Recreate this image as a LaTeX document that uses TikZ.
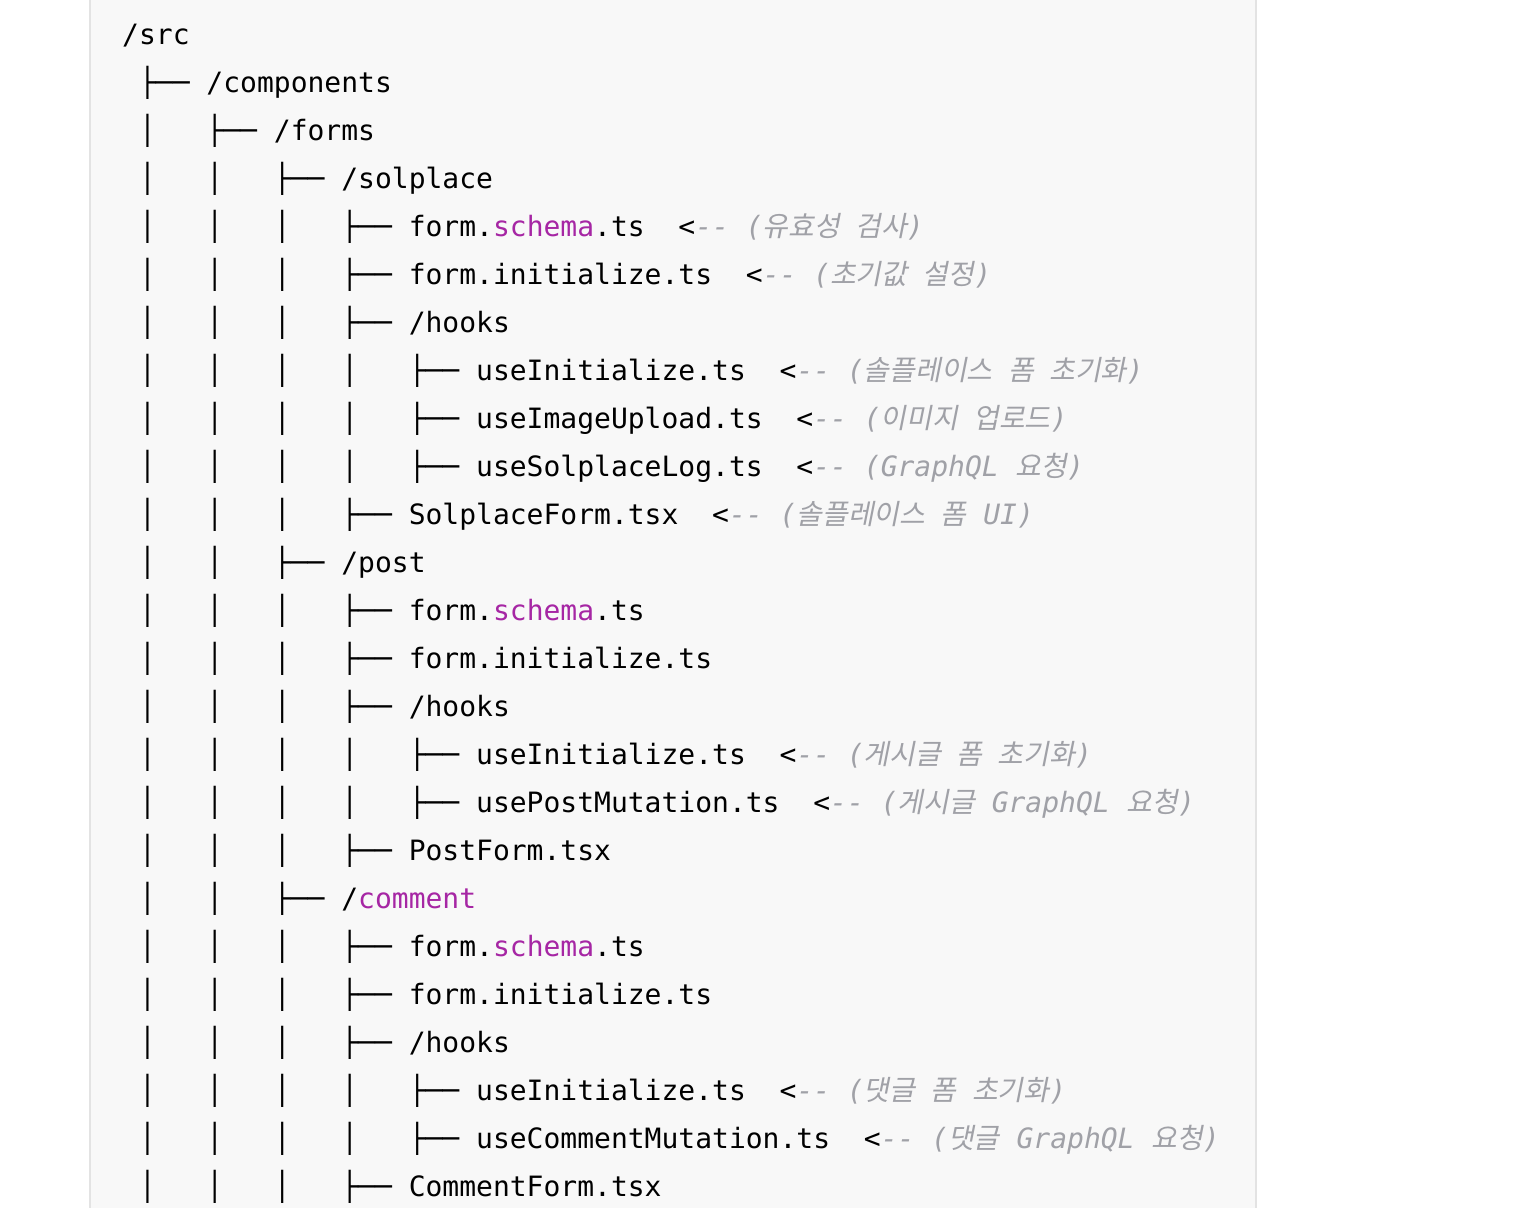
\documentclass[tikz,border=0pt]{standalone}
\usepackage{fontspec}
\setmonofont{DejaVu Sans Mono}
\newfontfamily\krfont[FakeSlant=0.2]{Noto Sans CJK KR}
\definecolor{cgray}{HTML}{A0A1A7}
\definecolor{cpurp}{HTML}{A626A4}
\definecolor{panel}{HTML}{F8F8F8}
\definecolor{pborder}{HTML}{E3E3E3}
\newcommand\Cm[1]{{\color{cgray}\itshape #1}}
\newcommand\Kr[1]{{\krfont #1}}
\newcommand\Pu[1]{{\color{cpurp}#1}}
\newcommand\Ks{\hspace{0.55em}}
\begin{document}
\begin{tikzpicture}[x=1pt,y=-1pt,
  codeline/.style={anchor=base west,inner sep=0pt,font=\ttfamily\fontsize{28}{48}\selectfont}]
\useasboundingbox (0,0) rectangle (1522,1208);
\fill[panel] (90,0) rectangle (1256,1208);
\draw[pborder,line width=1.5pt] (90,0) -- (90,1208) (1256,0) -- (1256,1208);
\node[codeline] (l0) at (122,44) {/src};
\node[codeline] (l1) at (122,92) {~├──~/components};
\node[codeline] (l2) at (122,140) {~│~~~├──~/forms};
\node[codeline] (l3) at (122,188) {~│~~~│~~~├──~/solplace};
\node[codeline] (l4) at (122,236) {~│~~~│~~~│~~~├──~form.\Pu{schema}.ts~~<\Cm{--~(\Kr{유효성\Ks 검사})}};
\node[codeline] (l5) at (122,284) {~│~~~│~~~│~~~├──~form.initialize.ts~~<\Cm{--~(\Kr{초기값\Ks 설정})}};
\node[codeline] (l6) at (122,332) {~│~~~│~~~│~~~├──~/hooks};
\node[codeline] (l7) at (122,380) {~│~~~│~~~│~~~│~~~├──~useInitialize.ts~~<\Cm{--~(\Kr{솔플레이스\Ks 폼\Ks 초기화})}};
\node[codeline] (l8) at (122,428) {~│~~~│~~~│~~~│~~~├──~useImageUpload.ts~~<\Cm{--~(\Kr{이미지\Ks 업로드})}};
\node[codeline] (l9) at (122,476) {~│~~~│~~~│~~~│~~~├──~useSolplaceLog.ts~~<\Cm{--~(GraphQL~\Kr{요청})}};
\node[codeline] (l10) at (122,524) {~│~~~│~~~│~~~├──~SolplaceForm.tsx~~<\Cm{--~(\Kr{솔플레이스\Ks 폼}~UI)}};
\node[codeline] (l11) at (122,572) {~│~~~│~~~├──~/post};
\node[codeline] (l12) at (122,620) {~│~~~│~~~│~~~├──~form.\Pu{schema}.ts};
\node[codeline] (l13) at (122,668) {~│~~~│~~~│~~~├──~form.initialize.ts};
\node[codeline] (l14) at (122,716) {~│~~~│~~~│~~~├──~/hooks};
\node[codeline] (l15) at (122,764) {~│~~~│~~~│~~~│~~~├──~useInitialize.ts~~<\Cm{--~(\Kr{게시글\Ks 폼\Ks 초기화})}};
\node[codeline] (l16) at (122,812) {~│~~~│~~~│~~~│~~~├──~usePostMutation.ts~~<\Cm{--~(\Kr{게시글}~GraphQL~\Kr{요청})}};
\node[codeline] (l17) at (122,860) {~│~~~│~~~│~~~├──~PostForm.tsx};
\node[codeline] (l18) at (122,908) {~│~~~│~~~├──~/\Pu{comment}};
\node[codeline] (l19) at (122,956) {~│~~~│~~~│~~~├──~form.\Pu{schema}.ts};
\node[codeline] (l20) at (122,1004) {~│~~~│~~~│~~~├──~form.initialize.ts};
\node[codeline] (l21) at (122,1052) {~│~~~│~~~│~~~├──~/hooks};
\node[codeline] (l22) at (122,1100) {~│~~~│~~~│~~~│~~~├──~useInitialize.ts~~<\Cm{--~(\Kr{댓글\Ks 폼\Ks 초기화})}};
\node[codeline] (l23) at (122,1148) {~│~~~│~~~│~~~│~~~├──~useCommentMutation.ts~~<\Cm{--~(\Kr{댓글}~GraphQL~\Kr{요청})}};
\node[codeline] (l24) at (122,1196) {~│~~~│~~~│~~~├──~CommentForm.tsx};
\end{tikzpicture}
\end{document}
